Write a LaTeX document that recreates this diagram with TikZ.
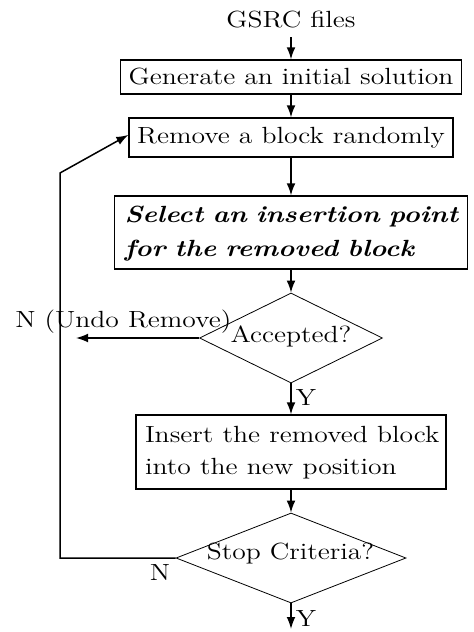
\documentclass[tikz,border=0pt]{standalone}
\usepackage{graphicx}
\usetikzlibrary{shapes.geometric,arrows.meta}
\newcommand\sx[2][1.18]{\scalebox{#1}[1]{#2}}
\begin{document}
\begin{tikzpicture}[x=0.5pt,y=-0.5pt,
  every node/.style={font=\fontsize{11.7}{16}\selectfont, inner sep=0pt},
  box/.style={draw, line width=0.65pt, minimum width=#1, anchor=center},
  dia/.style={draw, diamond, line width=0.4pt, inner sep=0pt},
  arr/.style={line width=0.75pt, -{Latex[length=6pt,width=4.4pt]}},
  lbl/.style={font=\fontsize{11.7}{14}\selectfont}
]
\useasboundingbox (0,0) rectangle (474,632);
\node (src) at (291,20) {\sx{GSRC files}};
\node[box=170.5pt, minimum height=17pt] (b1) at (291,77) {\sx{Generate an initial solution}};
\node[box=162pt, minimum height=19.5pt] (b2) at (291,137.5) {\sx{Remove a block randomly}};
\node[box=176.5pt, minimum height=36.5pt, text width=166.5pt, align=left] (b3) at (291,232.5)
  {\sx[1.175]{\bfseries\itshape\renewcommand\arraystretch{1.07}\begin{tabular}{@{}l@{}}Select an insertion point\\for the removed block\end{tabular}}};
\node[dia, minimum width=91.5pt, minimum height=45pt] (d1) at (291,338) {};
\node (t1) at (291,336) {\sx{Accepted?}};
\node[box=155pt, minimum height=37pt, text width=146pt, align=left] (b4) at (291,452)
  {\sx{\begin{tabular}{@{}l@{}}Insert the removed block\\into the new position\end{tabular}}};
\node[dia, minimum width=115pt, minimum height=45pt] (d2) at (291,558) {};
\node (t2) at (290.5,554) {\sx{Stop Criteria?}};
\node[lbl, anchor=west] (nundo) at (15,322) {\sx{N (Undo Remove)}};
\node[lbl] (y1) at (306,398) {\sx{Y}};
\node[lbl] (y2) at (306,619) {\sx{Y}};
\node[lbl] (n2) at (160,573) {\sx{N}};
\coordinate (undoend) at (76,338);
\coordinate (fin) at (291,629);
\coordinate (c1) at (60,558);
\coordinate (c2) at (60,173);

\draw[arr] (src.south |- 0,37) -- (b1.north);
\draw[arr] (b1) -- (b2);
\draw[arr] (b2) -- (b3);
\draw[arr] (b3) -- (d1.north);
\draw[arr] (d1.west) -- (undoend);
\draw[arr] (d1.south) -- (b4.north);
\draw[arr] (b4) -- (d2.north);
\draw[arr] (d2.south) -- (fin);
\draw[arr] (d2.west) -- (c1) -- (c2) -- ([yshift=1.3pt]b2.west);
\end{tikzpicture}
\end{document}
